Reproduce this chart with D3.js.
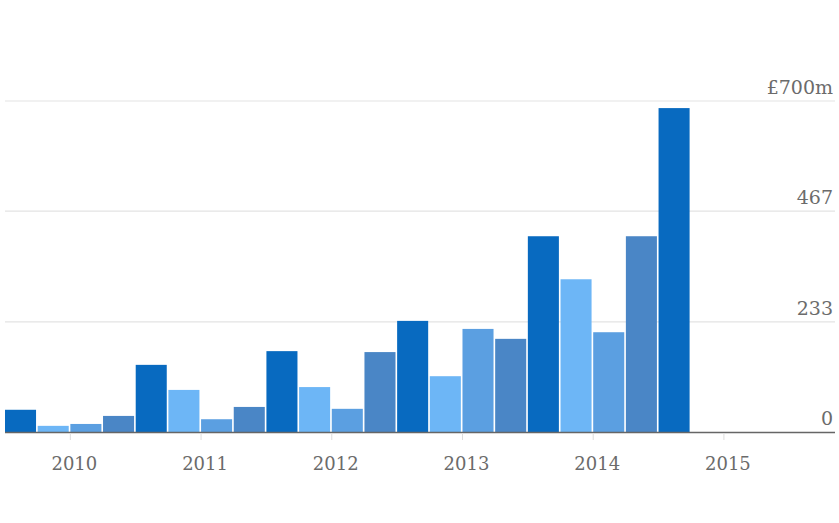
<!DOCTYPE html>
<html><head><meta charset="utf-8">
<script src="https://cdn.jsdelivr.net/npm/d3@7"></script>
<style>body{margin:0;background:#fff}text{font-family:"DejaVu Serif",serif;fill:#6b6b6b}</style>
</head><body><svg id="c" width="839" height="523"></svg>
<script>
const quarters = d3.range(21).map(i=>"B"+i);
const values = [47,13,17,34,142,89,27,53,171,95,49,169,235,118,218,197,414,323,211,414,685];
const colors = ["#086ac0","#6db6f6","#5b9fe1","#4a86c6"];
const yTicks = [0,233,467,700];
const yTickLabels = ["0","233","467","£700m"];
const years = ["2010","2011","2012","2013","2014","2015"];

const svg = d3.select("#c");
const x = d3.scaleBand().domain(d3.range(21)).range([5, 5+32.6*21]).paddingInner(0.05);
const y = d3.scaleLinear().domain([0,700]).range([432,101]);

svg.selectAll("line.g").data(yTicks.slice(1)).join("line")
  .attr("x1",5).attr("x2",835).attr("y1",d=>y(d)).attr("y2",d=>y(d))
  .attr("stroke","#e3e3e3").attr("stroke-width",1.2);
svg.selectAll("text.yl").data(yTicks).join("text")
  .attr("x",833).attr("y",d=>y(d)-7).attr("text-anchor","end")
  .attr("font-size",19).text((d,i)=>yTickLabels[i]);

svg.selectAll("rect").data(values).join("rect")
  .attr("x",(d,i)=>x(i)).attr("width",x.bandwidth())
  .attr("y",d=>y(d)).attr("height",d=>y(0)-y(d))
  .attr("fill",(d,i)=>colors[i%4]);

svg.append("line").attr("x1",5).attr("x2",835).attr("y1",y(0)+0.5).attr("y2",y(0)+0.5)
  .attr("stroke","#666").attr("stroke-width",1.3);

const step = x.step();
const yx = k => 5 + 2*step + k*4*step;
svg.selectAll("line.t").data(years).join("line")
  .attr("x1",(d,k)=>yx(k)).attr("x2",(d,k)=>yx(k)).attr("y1",433).attr("y2",440)
  .attr("stroke","#ddd");
svg.selectAll("text.xl").data(years).join("text")
  .attr("x",(d,k)=>yx(k)+4).attr("y",470).attr("text-anchor","middle")
  .attr("font-size",18).text(d=>d);
</script></body></html>
